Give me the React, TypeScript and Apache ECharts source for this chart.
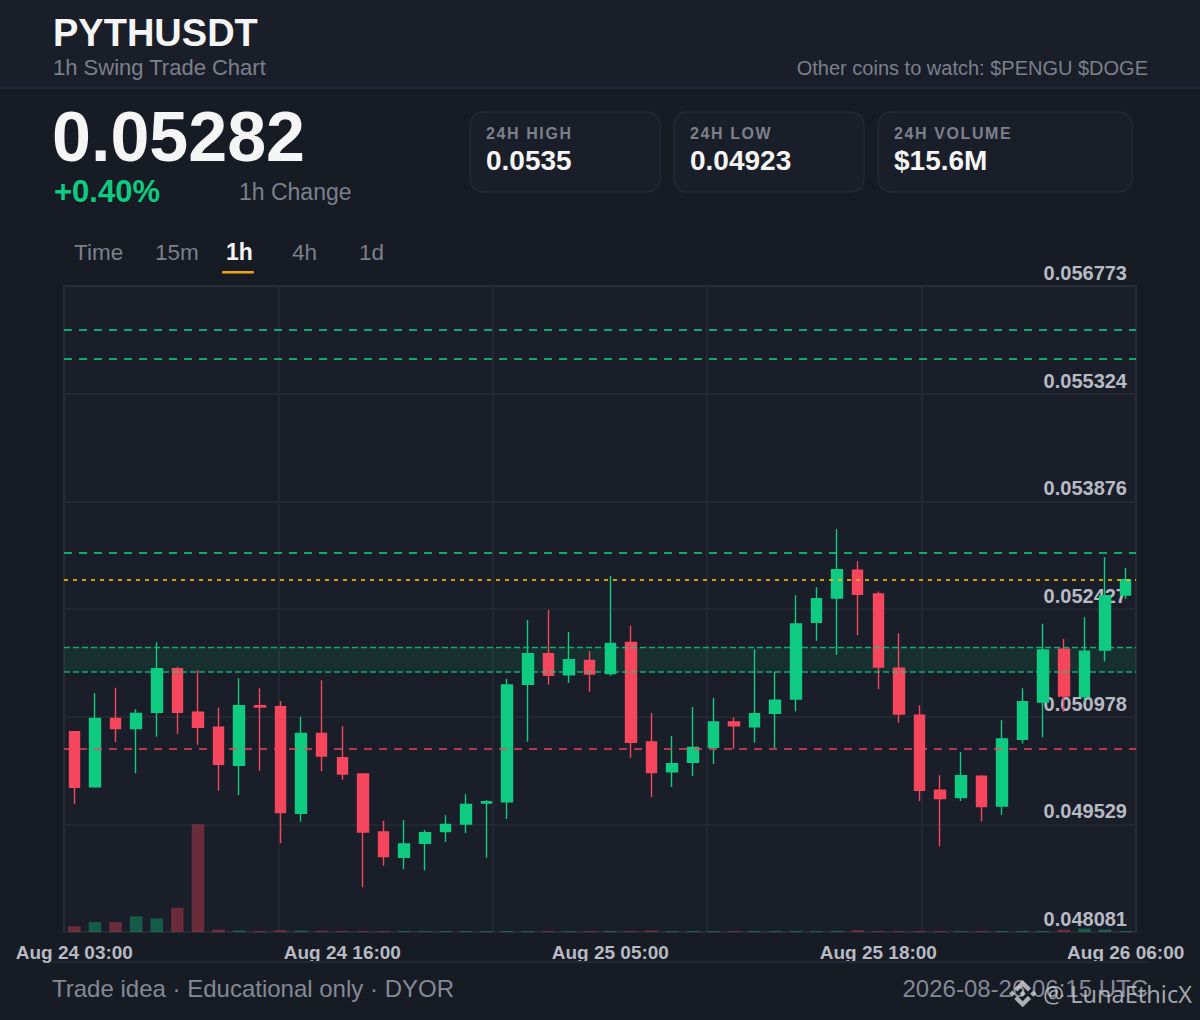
import React, { useEffect, useRef } from "react";
import * as echarts from "echarts";

const categories = [
  "Aug 24 03:00","Aug 24 04:00","Aug 24 05:00","Aug 24 06:00","Aug 24 07:00","Aug 24 08:00","Aug 24 09:00","Aug 24 10:00","Aug 24 11:00","Aug 24 12:00","Aug 24 13:00","Aug 24 14:00","Aug 24 15:00",
  "Aug 24 16:00","Aug 24 17:00","Aug 24 18:00","Aug 24 19:00","Aug 24 20:00","Aug 24 21:00","Aug 24 22:00","Aug 24 23:00","Aug 25 00:00","Aug 25 01:00","Aug 25 02:00","Aug 25 03:00","Aug 25 04:00",
  "Aug 25 05:00","Aug 25 06:00","Aug 25 07:00","Aug 25 08:00","Aug 25 09:00","Aug 25 10:00","Aug 25 11:00","Aug 25 12:00","Aug 25 13:00","Aug 25 14:00","Aug 25 15:00","Aug 25 16:00","Aug 25 17:00",
  "Aug 25 18:00","Aug 25 19:00","Aug 25 20:00","Aug 25 21:00","Aug 25 22:00","Aug 25 23:00","Aug 26 00:00","Aug 26 01:00","Aug 26 02:00","Aug 26 03:00","Aug 26 04:00","Aug 26 05:00","Aug 26 06:00",
];
const labelledIndexes = [0, 13, 26, 39, 51];

const opens = [0.050776,0.050036,0.050956,0.050817,0.051037,0.051624,0.051037,0.050835,0.050324,0.051126,0.051113,0.049678,0.050754,0.050427,0.050207,0.049427,0.049086,0.049274,0.049431,0.049534,0.049816,0.049834,0.051413,0.051826,0.051543,0.051736,0.051557,0.051978,0.050637,0.050238,0.050364,0.050565,0.050906,0.050843,0.051024,0.051217,0.052248,0.052576,0.052948,0.052629,0.051629,0.050997,0.049988,0.049889,0.050176,0.049777,0.050674,0.051176,0.051885,0.051248,0.051876,0.052616];
const closes = [0.050027,0.050956,0.050817,0.051023,0.051624,0.051037,0.050835,0.050337,0.051126,0.051108,0.049687,0.050754,0.050449,0.050207,0.049427,0.049095,0.049265,0.049417,0.049529,0.049798,0.049834,0.051404,0.051826,0.051534,0.051745,0.051552,0.051965,0.050633,0.050225,0.050346,0.050565,0.050906,0.050857,0.051018,0.051199,0.052226,0.052567,0.052957,0.052625,0.051647,0.051015,0.049988,0.049876,0.050185,0.049768,0.050678,0.051181,0.051876,0.051257,0.051858,0.052607,0.05282];
const highs = [0.050776,0.051292,0.051369,0.051077,0.051979,0.051651,0.051606,0.051099,0.051494,0.05136,0.051189,0.050978,0.051467,0.050848,0.050207,0.049579,0.049588,0.049453,0.049651,0.049933,0.049857,0.051489,0.052279,0.052413,0.052117,0.051862,0.052871,0.052202,0.051023,0.050718,0.051108,0.051229,0.050969,0.051884,0.051584,0.052611,0.052719,0.053504,0.053069,0.052661,0.0521,0.051131,0.05019,0.050503,0.05019,0.05093,0.05136,0.05223,0.052024,0.052315,0.053123,0.052979];
const lows = [0.049803,0.050023,0.050633,0.050216,0.050709,0.050745,0.050602,0.049983,0.049924,0.050252,0.049274,0.049566,0.050243,0.050131,0.048682,0.048974,0.048924,0.04891,0.049292,0.049413,0.049081,0.049601,0.050642,0.051409,0.051431,0.051314,0.05153,0.050426,0.049897,0.050032,0.05018,0.050341,0.050543,0.050628,0.050553,0.051051,0.052001,0.051813,0.052073,0.051351,0.050898,0.049844,0.04923,0.049844,0.049571,0.04966,0.050616,0.050701,0.051046,0.051181,0.051719,0.052562];
const volumes = [5.3,9.3,9.3,14.5,12.7,22.6,100,2.2,1.3,0.9,1.6,1.3,1.1,0.9,0.9,0.9,0.9,0.9,0.9,0.9,0.9,0.9,0.9,0.9,0.9,0.9,1.0,0.9,1.4,0.9,0.9,0.9,0.9,1.0,1.0,1.0,0.9,1.1,1.7,0.9,0.9,0.9,0.9,0.9,0.9,0.9,0.9,0.9,2.1,3.2,2.3,0.9];

const yTicks = [0.048081,0.049529,0.050978,0.052427,0.053876,0.055324,0.056773];
const yMin = 0.048081;
const yMax = 0.056773;
const volumeAxisMax = 600;

const targetLevels = [0.056181, 0.055791, 0.05318];
const zoneTop = 0.051916;
const zoneBottom = 0.051579;
const stopLevel = 0.050543;
const currentPrice = 0.05282;

const UP = "#0ecb81";
const DOWN = "#f6465d";
const FONT = '"Liberation Sans", Arial, sans-serif';
const MUTED = "#7c808b";

const LOGO_D =
  "M16.624 13.9202l2.7175 2.7154-7.353 7.353-7.353-7.352 2.7175-2.7164 4.6355 4.6595 4.6356-4.6595zm4.6366-4.6366L24 12l-2.7154 2.7164L18.5682 12l2.6924-2.7164zm-9.272.001l2.7163 2.6914-2.7164 2.7174v-.001L9.2721 12l2.7164-2.7154zm-9.2722-.001L5.4088 12l-2.6914 2.6924L0 12l2.7164-2.7164zM11.9885.0115l7.353 7.329-2.7174 2.7154-4.6356-4.6356-4.6355 4.6595-2.7174-2.7154 7.353-7.353z";

const txt = (text: string, x: number, y: number, font: string, fill: string, align = "left", z = 10, family = FONT) => ({
  type: "text",
  x,
  y,
  z,
  silent: true,
  style: { text, font: `${font} ${family}`, fill, textAlign: align, textVerticalAlign: "middle" },
});

const card = (x: number, w: number) => ({
  type: "rect",
  z: 1,
  silent: true,
  shape: { x, y: 112, width: w, height: 80, r: 13 },
  style: { fill: "#1a1e28", stroke: "#252934", lineWidth: 1.5 },
});

const SPACED = ["24H HIGH", "24H LOW", "24H VOLUME"];

export default function App() {
  const ref = useRef<HTMLDivElement>(null);
  useEffect(() => {
    document.body.style.margin = "0";
    document.body.style.background = "#171b24";
    echarts.graphic.registerShape("binanceLogo", echarts.graphic.extendPath(LOGO_D as any, {}) as any);
    const chart = echarts.init(ref.current!, null, { renderer: "svg" });
    const option: any = {
      animation: false,
      backgroundColor: "#171b24",
      grid: {
        show: true,
        left: 64,
        top: 286,
        width: 1072,
        height: 646,
        backgroundColor: "#1a1e28",
        borderColor: "#2a2e3a",
        borderWidth: 2,
      },
      xAxis: [
        {
          type: "category",
          data: categories,
          boundaryGap: true,
          axisLine: { show: false },
          axisTick: { show: false },
          splitLine: { show: false },
          axisLabel: {
            interval: (i: number) => labelledIndexes.includes(i),
            hideOverlap: false,
            color: "#b7bac3",
            fontFamily: FONT,
            fontWeight: "bold",
            fontSize: 19,
            margin: 11,
          },
        },
        {
          type: "value",
          position: "top",
          min: 0,
          max: 5,
          interval: 1,
          axisLine: { show: false },
          axisTick: { show: false },
          axisLabel: { show: false },
          splitLine: { show: true, lineStyle: { color: "#272b36", width: 1.5 } },
        },
      ],
      yAxis: [
        {
          type: "value",
          position: "right",
          min: yMin,
          max: yMax,
          scale: true,
          axisLine: { show: false },
          axisTick: { show: false, customValues: yTicks },
          splitLine: { show: true, lineStyle: { color: "#272b36", width: 1.5 } },
          axisLabel: {
            inside: true,
            customValues: yTicks,
            formatter: (v: number) => v.toFixed(6),
            color: "#b7bac3",
            fontFamily: FONT,
            fontWeight: "bold",
            fontSize: 20,
            margin: 9,
            align: "right",
            verticalAlign: "bottom",
            padding: [0, 0, 3, 0],
          },
        },
        { type: "value", min: 0, max: volumeAxisMax, show: false, splitLine: { show: false } },
      ],
      series: [
        {
          name: "Volume",
          type: "bar",
          xAxisIndex: 0,
          yAxisIndex: 1,
          barWidth: 12.5,
          silent: true,
          data: volumes.map((v, i) => ({
            value: v,
            itemStyle: { color: closes[i] >= opens[i] ? "rgba(14,203,129,0.36)" : "rgba(246,70,93,0.36)" },
          })),
        },
        {
          name: "PYTHUSDT",
          type: "candlestick",
          xAxisIndex: 0,
          yAxisIndex: 0,
          barWidth: 11,
          silent: true,
          itemStyle: { color: UP, color0: DOWN, borderColor: UP, borderColor0: DOWN, borderWidth: 1.4 },
          data: opens.map((o, i) => [o, closes[i], lows[i], highs[i]]),
          markArea: {
            silent: true,
            itemStyle: { color: "rgba(14,203,129,0.1)" },
            data: [[{ yAxis: zoneTop }, { yAxis: zoneBottom }]],
          },
        },
        {
          name: "Levels",
          type: "line",
          xAxisIndex: 0,
          yAxisIndex: 0,
          data: [],
          silent: true,
          z: 5,
          markLine: {
            silent: true,
            symbol: "none",
            precision: 6,
            label: { show: false },
            emphasis: { disabled: true },
            data: [
              ...targetLevels.map((v) => ({
                yAxis: v,
                lineStyle: { color: "rgba(14,203,129,0.8)", width: 2, type: [8, 7] },
              })),
              { yAxis: zoneTop, lineStyle: { color: "rgba(14,203,129,0.8)", width: 1.4, type: [6, 3] } },
              { yAxis: zoneBottom, lineStyle: { color: "rgba(14,203,129,0.6)", width: 2, type: [6, 3] } },
              { yAxis: stopLevel, lineStyle: { color: "rgba(246,70,93,0.7)", width: 2, type: [8, 7] } },
              { yAxis: currentPrice, lineStyle: { color: "rgba(240,185,11,0.85)", width: 2, type: [4, 5] } },
            ],
          },
        },
      ],
      graphic: {
        elements: [
          { type: "rect", z: 0, silent: true, shape: { x: 0, y: 0, width: 1200, height: 88 }, style: { fill: "#1a1e28" } },
          { type: "rect", z: 1, silent: true, shape: { x: 0, y: 87, width: 1200, height: 2 }, style: { fill: "#232733" } },
          { type: "rect", z: 1, silent: true, shape: { x: 52, y: 961, width: 1096, height: 2 }, style: { fill: "#232733" } },
          txt("PYTHUSDT", 53, 33, "bold 38px", "#f5f5f5"),
          txt("1h Swing Trade Chart", 53, 67, "22px", MUTED),
          txt("Other coins to watch: $PENGU $DOGE", 1148, 68, "20px", MUTED, "right"),
          txt("0.05282", 52, 137, "bold 70px", "#f5f5f5"),
          txt("+0.40%", 54, 191, "bold 31px", UP),
          txt("1h Change", 239, 192, "23px", MUTED),
          card(470, 190),
          card(674, 190),
          card(878, 254),
          txt("24H HIGH", 486, 133, "bold 16px", MUTED),
          txt("0.0535", 486, 160, "bold 28px", "#f5f5f5"),
          txt("24H LOW", 690, 133, "bold 16px", MUTED),
          txt("0.04923", 690, 160, "bold 28px", "#f5f5f5"),
          txt("24H VOLUME", 894, 133, "bold 16px", MUTED),
          txt("$15.6M", 894, 160, "bold 28px", "#f5f5f5"),
          txt("Time", 74, 252, "22.5px", MUTED),
          txt("15m", 155, 252, "22.5px", MUTED),
          txt("1h", 226, 252, "bold 23px", "#f5f5f5"),
          txt("4h", 292, 252, "22.5px", MUTED),
          txt("1d", 359, 252, "22.5px", MUTED),
          { type: "rect", z: 10, silent: true, shape: { x: 222, y: 271, width: 32, height: 2.5, r: 1 }, style: { fill: "#f0a50b" } },
          txt("Trade idea · Educational only · DYOR", 52, 988, "24px", "#858994"),
          txt("2026-08-26 06:15 UTC", 1148, 988, "24px", "#858994", "right"),
          { type: "binanceLogo", z: 20, silent: true, x: 1009, y: 980, scaleX: 1.14, scaleY: 1.14, style: { fill: "rgba(210,212,218,0.8)" } },
          txt("@ LunaEthicX", 1043, 994, "23.5px", "rgba(210,212,218,0.75)", "left", 20, '"Noto Sans", sans-serif'),
        ],
      },
    };
    chart.setOption(option);
    const space = () => {
      ref.current?.querySelectorAll("text").forEach((t) => {
        if (SPACED.includes(t.textContent || "")) t.setAttribute("letter-spacing", "1.6");
      });
    };
    space();
    chart.on("finished", space);
    return () => chart.dispose();
  }, []);
  return <div ref={ref} style={{ width: 1200, height: 1020 }} />;
}
